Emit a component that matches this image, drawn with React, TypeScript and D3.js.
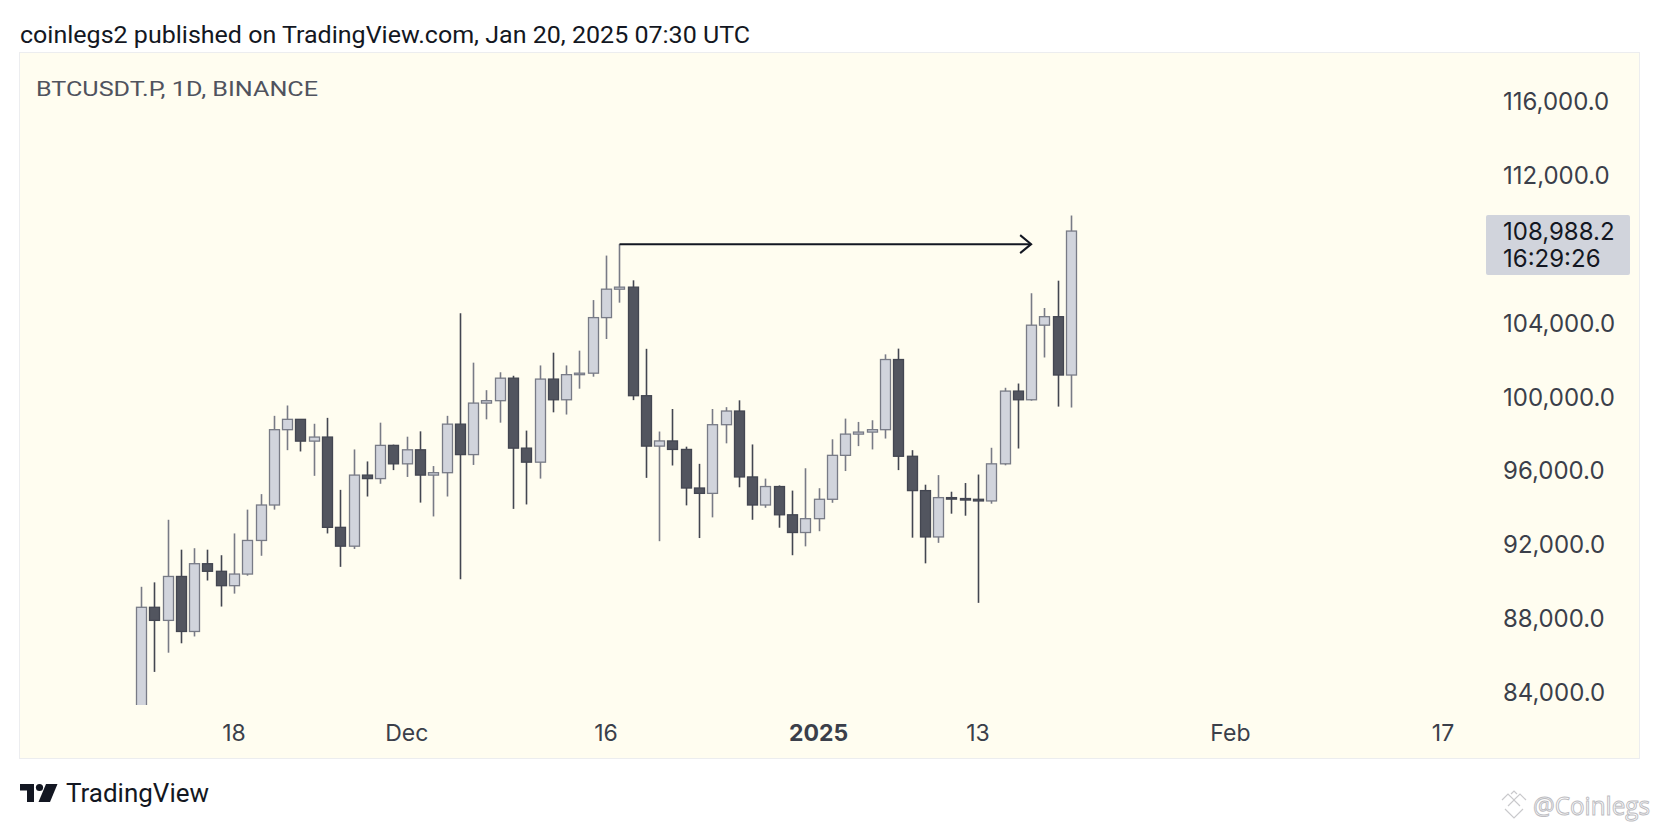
import React from 'react';
import * as d3 from 'd3';

// daily candles, BTCUSDT.P (Binance)
const dates = [
  '2024-11-11', '2024-11-12', '2024-11-13', '2024-11-14', '2024-11-15', '2024-11-16', '2024-11-17',
  '2024-11-18', '2024-11-19', '2024-11-20', '2024-11-21', '2024-11-22', '2024-11-23', '2024-11-24',
  '2024-11-25', '2024-11-26', '2024-11-27', '2024-11-28', '2024-11-29', '2024-11-30', '2024-12-01',
  '2024-12-02', '2024-12-03', '2024-12-04', '2024-12-05', '2024-12-06', '2024-12-07', '2024-12-08',
  '2024-12-09', '2024-12-10', '2024-12-11', '2024-12-12', '2024-12-13', '2024-12-14', '2024-12-15',
  '2024-12-16', '2024-12-17', '2024-12-18', '2024-12-19', '2024-12-20', '2024-12-21', '2024-12-22',
  '2024-12-23', '2024-12-24', '2024-12-25', '2024-12-26', '2024-12-27', '2024-12-28', '2024-12-29',
  '2024-12-30', '2024-12-31', '2025-01-01', '2025-01-02', '2025-01-03', '2025-01-04', '2025-01-05',
  '2025-01-06', '2025-01-07', '2025-01-08', '2025-01-09', '2025-01-10', '2025-01-11', '2025-01-12',
  '2025-01-13', '2025-01-14', '2025-01-15', '2025-01-16', '2025-01-17', '2025-01-18', '2025-01-19',
  '2025-01-20',
];

const opens = [
  80400, 88610, 87900, 90280, 87300, 90970, 90560, 89780, 90410, 92230, 94150, 98230, 98790, 97610,
  97830, 92940, 91920, 95770, 95580, 97380, 96380, 97140, 95770, 95900, 98530, 96880, 99670, 99800,
  101020, 97230, 96470, 100970, 99850, 101210, 101290, 104300, 105840, 105950, 100070, 97340, 97620, 97160,
  95070, 94780, 98500, 99240, 95670, 94150, 95150, 93620, 92660, 93410, 94460, 96840, 97990, 98100,
  98230, 102030, 96790, 94930, 92420, 94550, 94500, 94460, 94370, 96380, 100320, 99850, 103890, 104350,
  101190,
];

const highs = [
  89720, 89960, 93350, 91730, 91810, 91730, 91430, 92610, 93900, 94740, 98980, 99540, 98800, 98550,
  98870, 94970, 97160, 96510, 98610, 97420, 97850, 98140, 96260, 98980, 104540, 101860, 100370, 101340,
  101150, 98180, 101710, 102400, 101710, 102510, 105250, 107660, 108280, 106320, 102610, 98130, 99350, 97310,
  96380, 99350, 99450, 99820, 97430, 95580, 95210, 94930, 96140, 95060, 97710, 98830, 98650, 98740,
  102310, 102620, 97120, 95250, 95770, 94870, 95340, 95800, 97250, 100500, 100730, 105620, 104820, 106300,
  109830,
];

const lows = [
  80200, 85110, 86150, 86660, 87030, 90060, 88650, 89350, 90320, 91400, 93900, 97120, 97050, 95730,
  92610, 90800, 91770, 94610, 95300, 96040, 95670, 94280, 93530, 94610, 90130, 96320, 98790, 98610,
  93940, 94180, 95580, 99170, 99050, 100450, 101100, 103140, 105110, 99830, 95620, 92190, 96290, 94130,
  92360, 93480, 97490, 95110, 93350, 94000, 92920, 91430, 91910, 92730, 94270, 95990, 97340, 97160,
  97750, 96040, 92380, 90990, 92100, 93680, 93570, 88850, 94220, 96300, 97210, 99800, 102140, 99480,
  99430,
];

const closes = [
  88610, 87900, 90280, 87300, 90970, 90560, 89780, 90410, 92230, 94150, 98230, 98790, 97610, 97830,
  92940, 91920, 95770, 95580, 97380, 96380, 97140, 95770, 95900, 98530, 96880, 99670, 99800, 101020,
  97230, 96470, 100970, 99850, 101210, 101290, 104300, 105840, 105950, 100070, 97340, 97620, 97160, 95070,
  94780, 98500, 99240, 95670, 94150, 95150, 93620, 92660, 93410, 94460, 96840, 97990, 98100, 98230,
  102030, 96790, 94930, 92420, 94550, 94500, 94460, 94370, 96380, 100320, 99850, 103890, 104350, 101190,
  108988.2,
];

// 108,000 sits under the last-price label, so it is not shown
const priceTicks = [84000, 88000, 92000, 96000, 100000, 104000, 112000, 116000];

const timeTicks = [
  { date: '2024-11-18', label: '18', bold: false },
  { date: '2024-12-01', label: 'Dec', bold: false },
  { date: '2024-12-16', label: '16', bold: false },
  { date: '2025-01-01', label: '2025', bold: true },
  { date: '2025-01-13', label: '13', bold: false },
  { date: '2025-02-01', label: 'Feb', bold: false },
  { date: '2025-02-17', label: '17', bold: false },
];

// horizontal arrow drawn from the Dec 17 high
const arrowFrom = { date: '2024-12-17', price: 108280 };
const arrowTo = { date: '2025-01-17', price: 108280 };

const lastPrice = 108988.2;
const countdown = '16:29:26';

const W = 1660;
const H = 828;
const panel = { x: 19, y: 52, w: 1621, h: 707 };
const plotBottom = 705;
const plotRight = 1482;
const labelX = 1503;

const UP_FILL = '#D1D4DC';
const UP_LINE = '#787B86';
const DN_FILL = '#52555F';
const DN_LINE = '#434651';
const TEXT = '#131722';
const AXIS_TEXT = '#3B3F4A';

const parse = d3.utcParse('%Y-%m-%d');

export default function App() {
  const x = d3
    .scaleUtc()
    .domain([parse('2024-11-18') as Date, parse('2025-02-17') as Date])
    .range([234, 1443]);
  const y = d3.scaleLinear().domain([84000, 116000]).range([692.4, 101.6]);

  const candles = dates.map((d, i) => ({
    date: parse(d) as Date,
    o: opens[i],
    h: highs[i],
    l: lows[i],
    c: closes[i],
  }));

  const bodyW = 10;
  const fmt = d3.format(',.1f');

  const ax1 = x(parse(arrowFrom.date) as Date);
  const ax2 = x(parse(arrowTo.date) as Date);
  const ay = y(arrowFrom.price);
  const py = y(lastPrice);

  return (
    <>
      <style>{'body{margin:0;background:#fff}'}</style>
      <svg width={W} height={H} style={{ display: 'block' }} fontFamily="Inter, 'Noto Sans', sans-serif">
        <defs>
          <clipPath id="plotClip">
            <rect x={panel.x} y={panel.y + 1} width={plotRight - panel.x} height={plotBottom - panel.y - 1} />
          </clipPath>
        </defs>

        <text x={20} y={43} fontSize={23} fill={TEXT} fontFamily="Roboto, sans-serif" textLength={730} lengthAdjust="spacingAndGlyphs">
          coinlegs2 published on TradingView.com, Jan 20, 2025 07:30 UTC
        </text>

        <rect x={panel.x + 0.5} y={panel.y + 0.5} width={panel.w - 1} height={panel.h - 1} fill="#FFFDF0" stroke="#ECEDEF" />

        <text x={36} y={96} fontSize={21} fill="#50535E" fontFamily="Roboto, sans-serif" textLength={282} lengthAdjust="spacingAndGlyphs">
          BTCUSDT.P, 1D, BINANCE
        </text>

        <g clipPath="url(#plotClip)">
          {candles.map((k, i) => {
            const cx = Math.round(x(k.date)) + 0.5;
            const up = k.c >= k.o;
            const top = y(Math.max(k.o, k.c));
            const bot = y(Math.min(k.o, k.c));
            const bh = Math.max(bot - top, 1.5);
            return (
              <g key={i}>
                <line x1={cx} x2={cx} y1={y(k.h)} y2={y(k.l)} stroke={up ? UP_LINE : DN_LINE} strokeWidth={1.6} />
                <rect
                  x={cx - bodyW / 2}
                  y={top}
                  width={bodyW}
                  height={bh}
                  fill={up ? UP_FILL : DN_FILL}
                  stroke={up ? UP_LINE : DN_LINE}
                  strokeWidth={1.3}
                />
              </g>
            );
          })}
          <line x1={Math.round(ax1) + 0.5} x2={ax2} y1={ay} y2={ay} stroke={TEXT} strokeWidth={2} />
          <polyline
            points={`${ax2 - 11},${ay - 9} ${ax2},${ay} ${ax2 - 11},${ay + 9}`}
            fill="none"
            stroke={TEXT}
            strokeWidth={2}
          />
        </g>

        {priceTicks.map(p => (
          <text key={p} x={labelX} y={y(p)} dy="0.36em" fontSize={24} fill={AXIS_TEXT}>
            {fmt(p)}
          </text>
        ))}

        <rect x={1486} y={py - 16} width={144} height={60} rx={2} fill="#D1D4DC" />
        <text x={labelX} y={py} dy="0.36em" fontSize={24} fill={TEXT}>
          {fmt(lastPrice)}
        </text>
        <text x={labelX} y={py + 27} dy="0.36em" fontSize={24} fill={TEXT}>
          {countdown}
        </text>

        {timeTicks.map(t => (
          <text
            key={t.date}
            x={x(parse(t.date) as Date)}
            y={733}
            dy="0.36em"
            textAnchor="middle"
            fontSize={23}
            fontWeight={t.bold ? 700 : 400}
            fill={AXIS_TEXT}
          >
            {t.label}
          </text>
        ))}

        {/* footer */}
        <g fill={TEXT}>
          <path d="M20,784 H34 V802 H27 V790.5 H20 Z" />
          <circle cx={39.5} cy={787.5} r={3.6} />
          <path d="M46,784 H57.5 L50,802 H38.5 Z" />
        </g>
        <text x={66} y={802} fontSize={26} fill={TEXT} fontFamily="Roboto, sans-serif" textLength={143} lengthAdjust="spacingAndGlyphs">
          TradingView
        </text>

        <g fill="none" stroke="#C9C9CC" strokeWidth={1.2}>
          <polyline points="1502,800 1508,794 1514,800 1520,794 1526,800" />
          <polyline points="1508,806 1514,800 1520,806" />
          <polyline points="1505,809 1514,818 1523,809" />
          <polyline points="1511,794 1514,791 1517,794" />
        </g>
        <text
          x={1533}
          y={815}
          fontSize={25}
          fill="#FFFFFF"
          stroke="#BDBDC2"
          strokeWidth={1}
          fontFamily="'Open Sans', sans-serif"
          textLength={117}
          lengthAdjust="spacingAndGlyphs"
        >
          @Coinlegs
        </text>
      </svg>
    </>
  );
}
